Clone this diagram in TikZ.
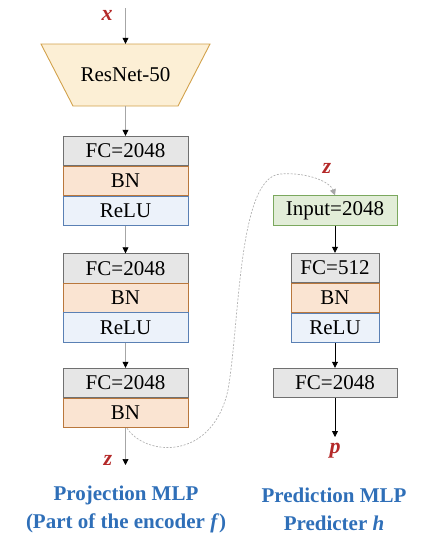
\documentclass[tikz,border=0pt]{standalone}
\usepackage{fontspec}
\setmainfont{Liberation Serif}
\usetikzlibrary{arrows.meta}
\definecolor{fcfill}{HTML}{E6E6E6}
\definecolor{fcdraw}{HTML}{707070}
\definecolor{bnfill}{HTML}{FAE4D2}
\definecolor{bndraw}{HTML}{B9773C}
\definecolor{relufill}{HTML}{ECF2FA}
\definecolor{reludraw}{HTML}{5A80B4}
\definecolor{infill}{HTML}{E2EDD8}
\definecolor{indraw}{HTML}{7BA85E}
\definecolor{resfill}{HTML}{FCEFD5}
\definecolor{resdraw}{HTML}{D2A24C}
\definecolor{varred}{HTML}{B42828}
\definecolor{capblue}{HTML}{2F6FB8}
\tikzset{
  layer/.style={draw, line width=0.9pt, minimum height=29.5pt, inner sep=0pt, font=\fontsize{21}{24}\selectfont},
  fcbox/.style={layer, fill=fcfill, draw=fcdraw},
  bnbox/.style={layer, fill=bnfill, draw=bndraw},
  relubox/.style={layer, fill=relufill, draw=reludraw},
  inbox/.style={layer, fill=infill, draw=indraw},
  varlab/.style={text=varred, font=\fontsize{22}{24}\selectfont\bfseries\itshape, inner sep=0pt},
  caption/.style={text=capblue, font=\fontsize{21}{28}\selectfont\bfseries, align=center, inner sep=0pt},
  greyarrow/.style={draw=gray!70, line width=0.7pt, -{Triangle[length=6pt,width=6pt,color=black]}},
  blackarrow/.style={draw=black, line width=0.8pt, -{Triangle[length=6pt,width=6pt]}},
  flowcurve/.style={draw=gray!60, line width=0.7pt, dash pattern=on 2pt off 1.5pt, -{Triangle[length=6pt,width=6pt,color=gray!70]}}
}
\begin{document}
\begin{tikzpicture}[x=1pt,y=-1pt]
\useasboundingbox (0,0) rectangle (442,541);
% input x
\coordinate (xstart) at (125.5,8);
\node[varlab] (xl) at (107,15) {x};
% ResNet trapezoid
\draw[line width=0.9pt, draw=resdraw, fill=resfill] (41,44) -- (210,44) -- (178,106) -- (73,106) -- cycle;
\node[minimum width=105pt, minimum height=62pt, inner sep=0pt, font=\fontsize{21}{24}\selectfont] (res) at (125.5,75) {ResNet-50};
\draw[greyarrow] (xstart) -- (res.north);
% left column block 1
\node[fcbox, minimum width=125pt] (fc1) at (125.5,151) {FC=2048};
\node[bnbox, minimum width=125pt] (bn1) at (125.5,181) {BN};
\node[relubox, minimum width=125pt] (re1) at (125.5,211) {ReLU};
% block 2
\node[fcbox, minimum width=125pt] (fc2) at (125.5,268.5) {FC=2048};
\node[bnbox, minimum width=125pt] (bn2) at (125.5,298) {BN};
\node[relubox, minimum width=125pt] (re2) at (125.5,327.5) {ReLU};
% block 3
\node[fcbox, minimum width=125pt] (fc3) at (125.5,383) {FC=2048};
\node[bnbox, minimum width=125pt] (bn3) at (125.5,413) {BN};
\coordinate (zend) at (125.5,465);
\node[varlab] (zl) at (108,460) {z};
\draw[greyarrow] (res.south) -- (fc1.north);
\draw[greyarrow] (re1.south) -- (fc2.north);
\draw[greyarrow] (re2.south) -- (fc3.north);
\draw[greyarrow] (bn3.south) -- (zend);
% right column
\node[inbox, minimum width=124pt] (inp) at (335,210.5) {Input=2048};
\node[varlab] (zr) at (327,168) {z};
\node[fcbox, minimum width=88pt] (fc4) at (335,268) {FC=512};
\node[bnbox, minimum width=88pt] (bn4) at (335,298) {BN};
\node[relubox, minimum width=88pt] (re4) at (335,328) {ReLU};
\node[fcbox, minimum width=124pt] (fc5) at (335,383) {FC=2048};
\coordinate (pend) at (335,437);
\node[varlab] (pl) at (335,451) {p};
\draw[blackarrow] (inp.south) -- (fc4.north);
\draw[blackarrow] (re4.south) -- (fc5.north);
\draw[blackarrow] (fc5.south) -- (pend);
% dashed connection
\draw[flowcurve] ([xshift=1.5pt]bn3.south) .. controls (145,456) and (212,462) .. (228,390) .. controls (240,320) and (238,178) .. (280,174) .. controls (308,172) and (330,182) .. (inp.north);
% captions
\node[caption] (cap1) at (126,509) {Projection MLP\\(Part of the encoder \textit{f})};
\node[caption] (cap2) at (334,509) {Prediction MLP\\Predicter \textit{h}};
\end{tikzpicture}
\end{document}
